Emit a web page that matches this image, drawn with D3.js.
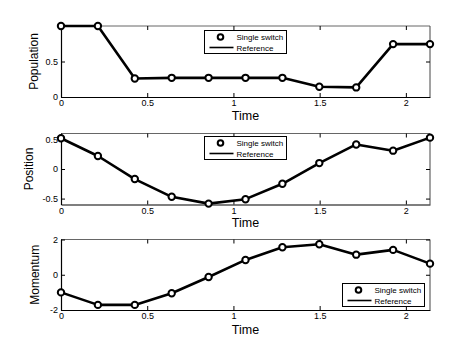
<!DOCTYPE html>
<html><head><meta charset="utf-8">
<script src="https://cdn.jsdelivr.net/npm/d3@7"></script>
<style>body{margin:0;background:#fff}svg{display:block}text{font-family:"Liberation Sans",Arial,sans-serif;fill:#000}</style>
</head><body><svg id="c" width="474" height="355"></svg>
<script>
const time = [0, 0.214, 0.428, 0.642, 0.856, 1.07, 1.284, 1.498, 1.712, 1.926, 2.14];
const population = [1, 1, 0.26, 0.27, 0.27, 0.27, 0.27, 0.145, 0.135, 0.745, 0.745];
const position = [0.52, 0.22, -0.17, -0.47, -0.585, -0.51, -0.25, 0.1, 0.415, 0.31, 0.53];
const momentum = [-1.0, -1.71, -1.71, -1.05, -0.13, 0.84, 1.56, 1.73, 1.14, 1.41, 0.63];
const xTicks = [0, 0.5, 1, 1.5, 2];
const popTicks = [0, 0.5];
const posTicks = [-0.5, 0, 0.5];
const momTicks = [-2, 0, 2];
const legendLabels = ["Single switch", "Reference"];

const fmt = d => String(d).replace("\u2212", "-");
const svg = d3.select("#c");
const panels = [
  {name:"Population", vals:population, dom:[0,1], ticks:popTicks, top:26, bottom:97, ylabX:38, timeY:120, leg:{x:204.5,y:30.5,w:82,h:23}},
  {name:"Position", vals:position, dom:[-0.6,0.6], ticks:posTicks, top:133.5, bottom:204.5, ylabX:33, timeY:226.5, leg:{x:204.5,y:136.5,w:82,h:23}},
  {name:"Momentum", vals:momentum, dom:[-2,2], ticks:momTicks, top:239.5, bottom:310, ylabX:39, timeY:333.5, leg:{x:342.5,y:283.5,w:82,h:23}}
];
const left = 61, right = 430;
const x = d3.scaleLinear().domain([0, 2.14]).range([left, right]);

panels.forEach(p => {
  const y = d3.scaleLinear().domain(p.dom).range([p.bottom, p.top]);
  const g = svg.append("g");
  g.append("line").attr("x1",left).attr("x2",right).attr("y1",p.top).attr("y2",p.top).attr("stroke","#666").attr("stroke-width",1);
  g.append("line").attr("x1",right).attr("x2",right).attr("y1",p.top).attr("y2",p.bottom).attr("stroke","#444").attr("stroke-width",1);
  const xa = g.append("g").attr("transform",`translate(0,${p.bottom})`)
    .call(d3.axisBottom(x).tickValues(xTicks).tickSizeInner(-4).tickSizeOuter(0).tickPadding(3).tickFormat(fmt));
  const xt = g.append("g").attr("transform",`translate(0,${p.top})`)
    .call(d3.axisTop(x).tickValues(xTicks).tickSizeInner(-4).tickSizeOuter(0).tickFormat(""));
  xt.select(".domain").remove();
  const ya = g.append("g").attr("transform",`translate(${left},0)`)
    .call(d3.axisLeft(y).tickValues(p.ticks).tickSizeInner(-4).tickSizeOuter(0).tickPadding(3).tickFormat(fmt));
  const yr = g.append("g").attr("transform",`translate(${right},0)`)
    .call(d3.axisRight(y).tickValues(p.ticks).tickSizeInner(-4).tickSizeOuter(0).tickFormat(""));
  yr.select(".domain").remove();
  [xa,ya,xt,yr].forEach(a => {
    a.selectAll(".domain").attr("stroke","#000").attr("stroke-width",1.2);
    a.selectAll("text").attr("font-size",9).attr("font-family","Liberation Sans, Arial, sans-serif");
    a.selectAll(".tick line").attr("stroke","#000");
  });
  const line = d3.line().x((d,i)=>x(time[i])).y(d=>y(d));
  g.append("path").datum(p.vals).attr("d",line).attr("fill","none").attr("stroke","#000").attr("stroke-width",2.6).attr("stroke-linejoin","round");
  g.selectAll("circle.m").data(p.vals).enter().append("circle").attr("class","m")
    .attr("cx",(d,i)=>x(time[i])).attr("cy",d=>y(d)).attr("r",3.2)
    .attr("fill","#fff").attr("stroke","#000").attr("stroke-width",2);
  g.append("text").attr("x",(left+right)/2).attr("y",p.timeY).attr("text-anchor","middle").attr("font-size",12.5).text("Time");
  g.append("text").attr("transform",`translate(${p.ylabX},${(p.top+p.bottom)/2}) rotate(-90)`).attr("text-anchor","middle").attr("font-size",12).text(p.name);
  const L = p.leg;
  const lg = g.append("g");
  lg.append("rect").attr("x",L.x).attr("y",L.y).attr("width",L.w).attr("height",L.h).attr("fill","#fff").attr("stroke","#000").attr("stroke-width",1);
  lg.append("circle").attr("cx",L.x+16).attr("cy",L.y+6.5).attr("r",2.8).attr("fill","#fff").attr("stroke","#000").attr("stroke-width",2);
  lg.append("line").attr("x1",L.x+5).attr("x2",L.x+29).attr("y1",L.y+17).attr("y2",L.y+17).attr("stroke","#000").attr("stroke-width",1.6);
  lg.append("text").attr("x",L.x+32).attr("y",L.y+9.5).attr("font-size",8).text(legendLabels[0]);
  lg.append("text").attr("x",L.x+32).attr("y",L.y+20).attr("font-size",8).text(legendLabels[1]);
});
</script></body></html>
